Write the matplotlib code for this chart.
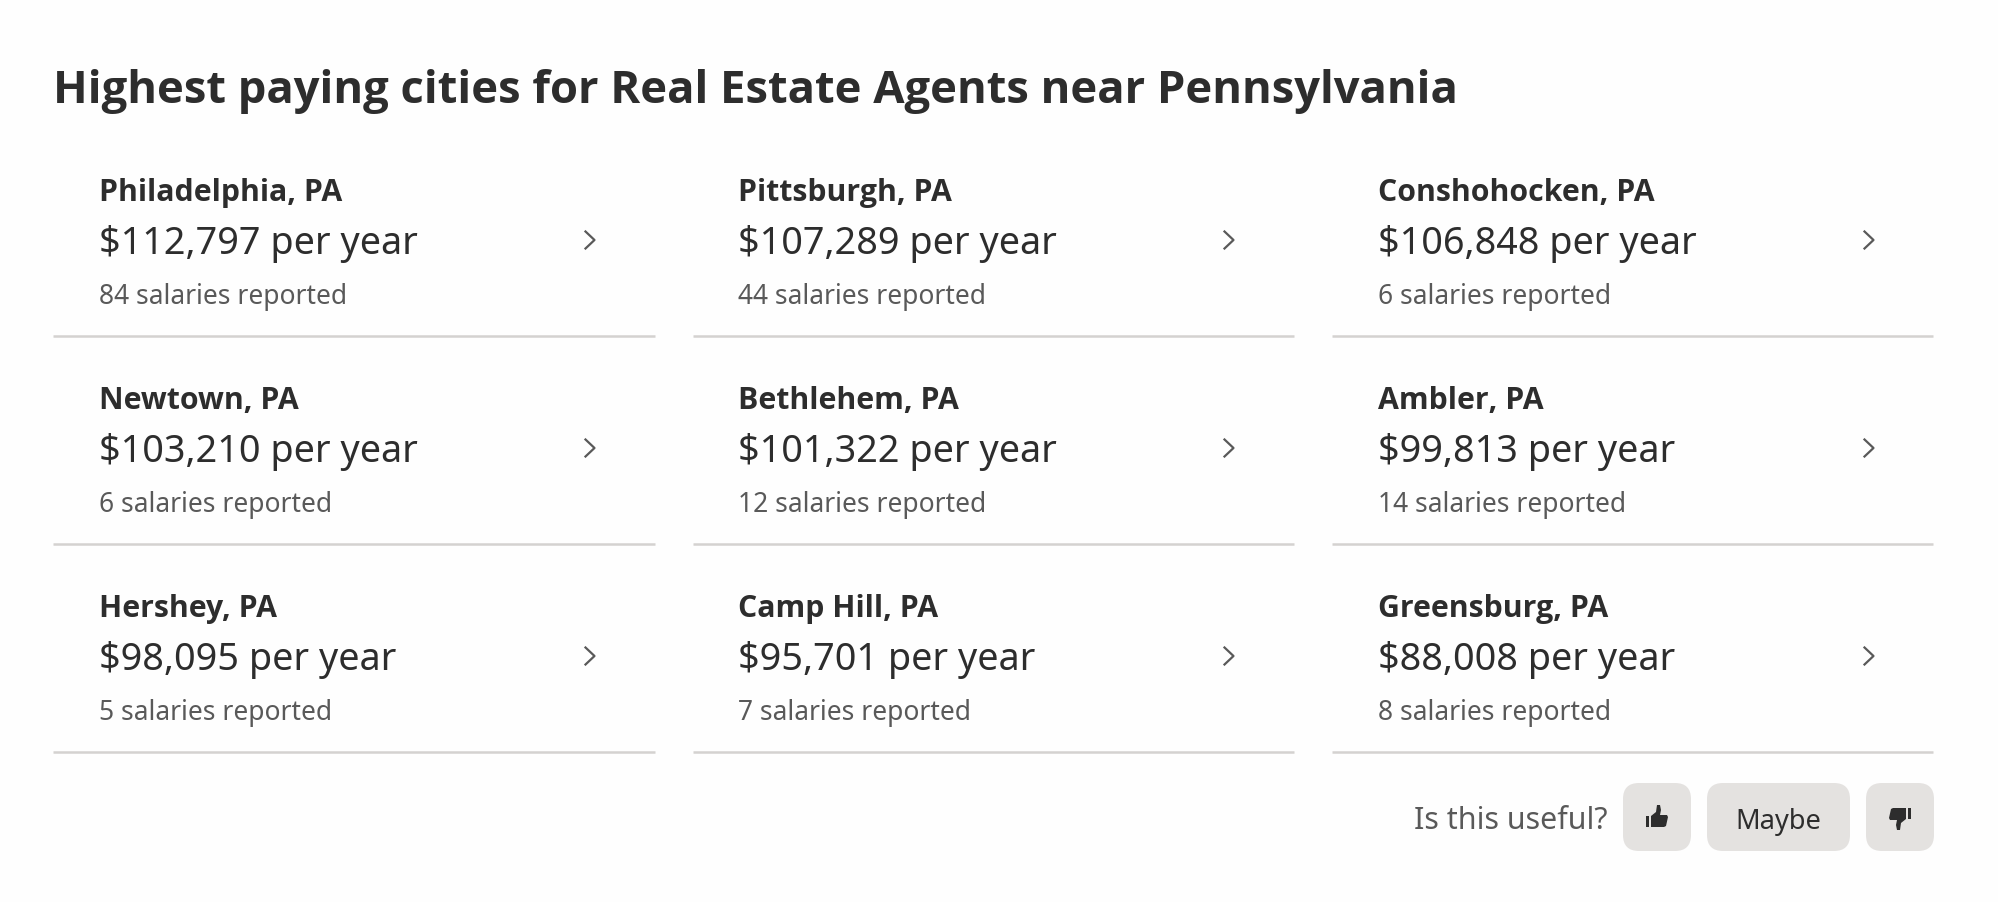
from matplotlib import pyplot as plt
from matplotlib.patches import FancyBboxPatch, Polygon

# values
cities = ['Philadelphia, PA', 'Pittsburgh, PA', 'Conshohocken, PA',
          'Newtown, PA', 'Bethlehem, PA', 'Ambler, PA',
          'Hershey, PA', 'Camp Hill, PA', 'Greensburg, PA']
salaries = [112797, 107289, 106848, 103210, 101322, 99813, 98095, 95701, 88008]
reports = [84, 44, 6, 6, 12, 14, 5, 7, 8]

title = 'Highest paying cities for Real Estate Agents near Pennsylvania'

plt.rcParams['font.family'] = ['Noto Sans', 'DejaVu Sans']
BOLD = ['Open Sans', 'Noto Sans', 'DejaVu Sans']

DARK = '#2d2d2d'
GREY = '#595959'
BTN = '#e4e2e0'

fig = plt.figure(figsize=(19.99, 9.03), dpi=100, facecolor='#fefefe')
ax = fig.add_axes([0, 0, 1, 1])
ax.set_xlim(0, 1999)
ax.set_ylim(903, 0)
ax.axis('off')

ax.text(53, 103.5, title, fontsize=32.65, fontweight='bold', family=BOLD, color=DARK, va='baseline')

col_left = [53, 693, 1332]
col_right = [655, 1294, 1933]
text_left = [99, 738, 1378]
row_top = [130, 338, 546]

for i in range(len(cities)):
    r, c = divmod(i, 3)
    x = text_left[c]
    top = row_top[r]
    ax.text(x, top + 71.5, cities[i], fontsize=21.75, fontweight='bold', family=BOLD, color=DARK, va='baseline')
    ax.text(x, top + 124.5, '$%s per year' % format(salaries[i], ','), fontsize=27.2, color=DARK, va='baseline')
    ax.text(x, top + 174, '%d salaries reported' % reports[i], fontsize=19, color=GREY, va='baseline')
    # chevron
    cx = text_left[c] + 491
    cy = top + 111
    ax.plot([cx - 4.5, cx + 4.5, cx - 4.5], [cy - 8.5, cy, cy + 8.5], color='#595959', lw=1.6)
    ax.plot([col_left[c], col_right[c]], [top + 207, top + 207], color='#d4d2d0', lw=1.8, solid_capstyle='butt')


def button(x0, x1, y0=784, y1=852, rad=16):
    ax.add_patch(FancyBboxPatch((x0 + rad, y0 + rad), x1 - x0 - 2 * rad, y1 - y0 - 2 * rad,
                                boxstyle='round,pad=%d,rounding_size=%d' % (rad, rad),
                                fc=BTN, ec='none'))


def thumb(cx, cy, flip=1):
    # flip=-1 turns the hand upside down and mirrors it
    bar = [(-11, -1), (-8, -1), (-8, 10), (-11, 10)]
    hand = [(-6, -1), (-1, -5), (0, -12), (3, -12), (4, -7), (3, -2), (10, -2), (11, 0),
            (9, 9), (7, 10), (-6, 10)]
    for pts in (bar, hand):
        ax.add_patch(Polygon([(cx + flip * px, cy + flip * py) for px, py in pts], fc=DARK, ec='none'))


ax.text(1608, 829, 'Is this useful?', fontsize=21.9, color=GREY, va='baseline', ha='right')
button(1623, 1691)
button(1707, 1850)
button(1866, 1934)
thumb(1657, 818)
thumb(1900, 819, -1)
ax.text(1778, 829, 'Maybe', fontsize=19.6, color=DARK, va='baseline', ha='center')

fig.savefig('out.png', dpi=100, facecolor=fig.get_facecolor())
